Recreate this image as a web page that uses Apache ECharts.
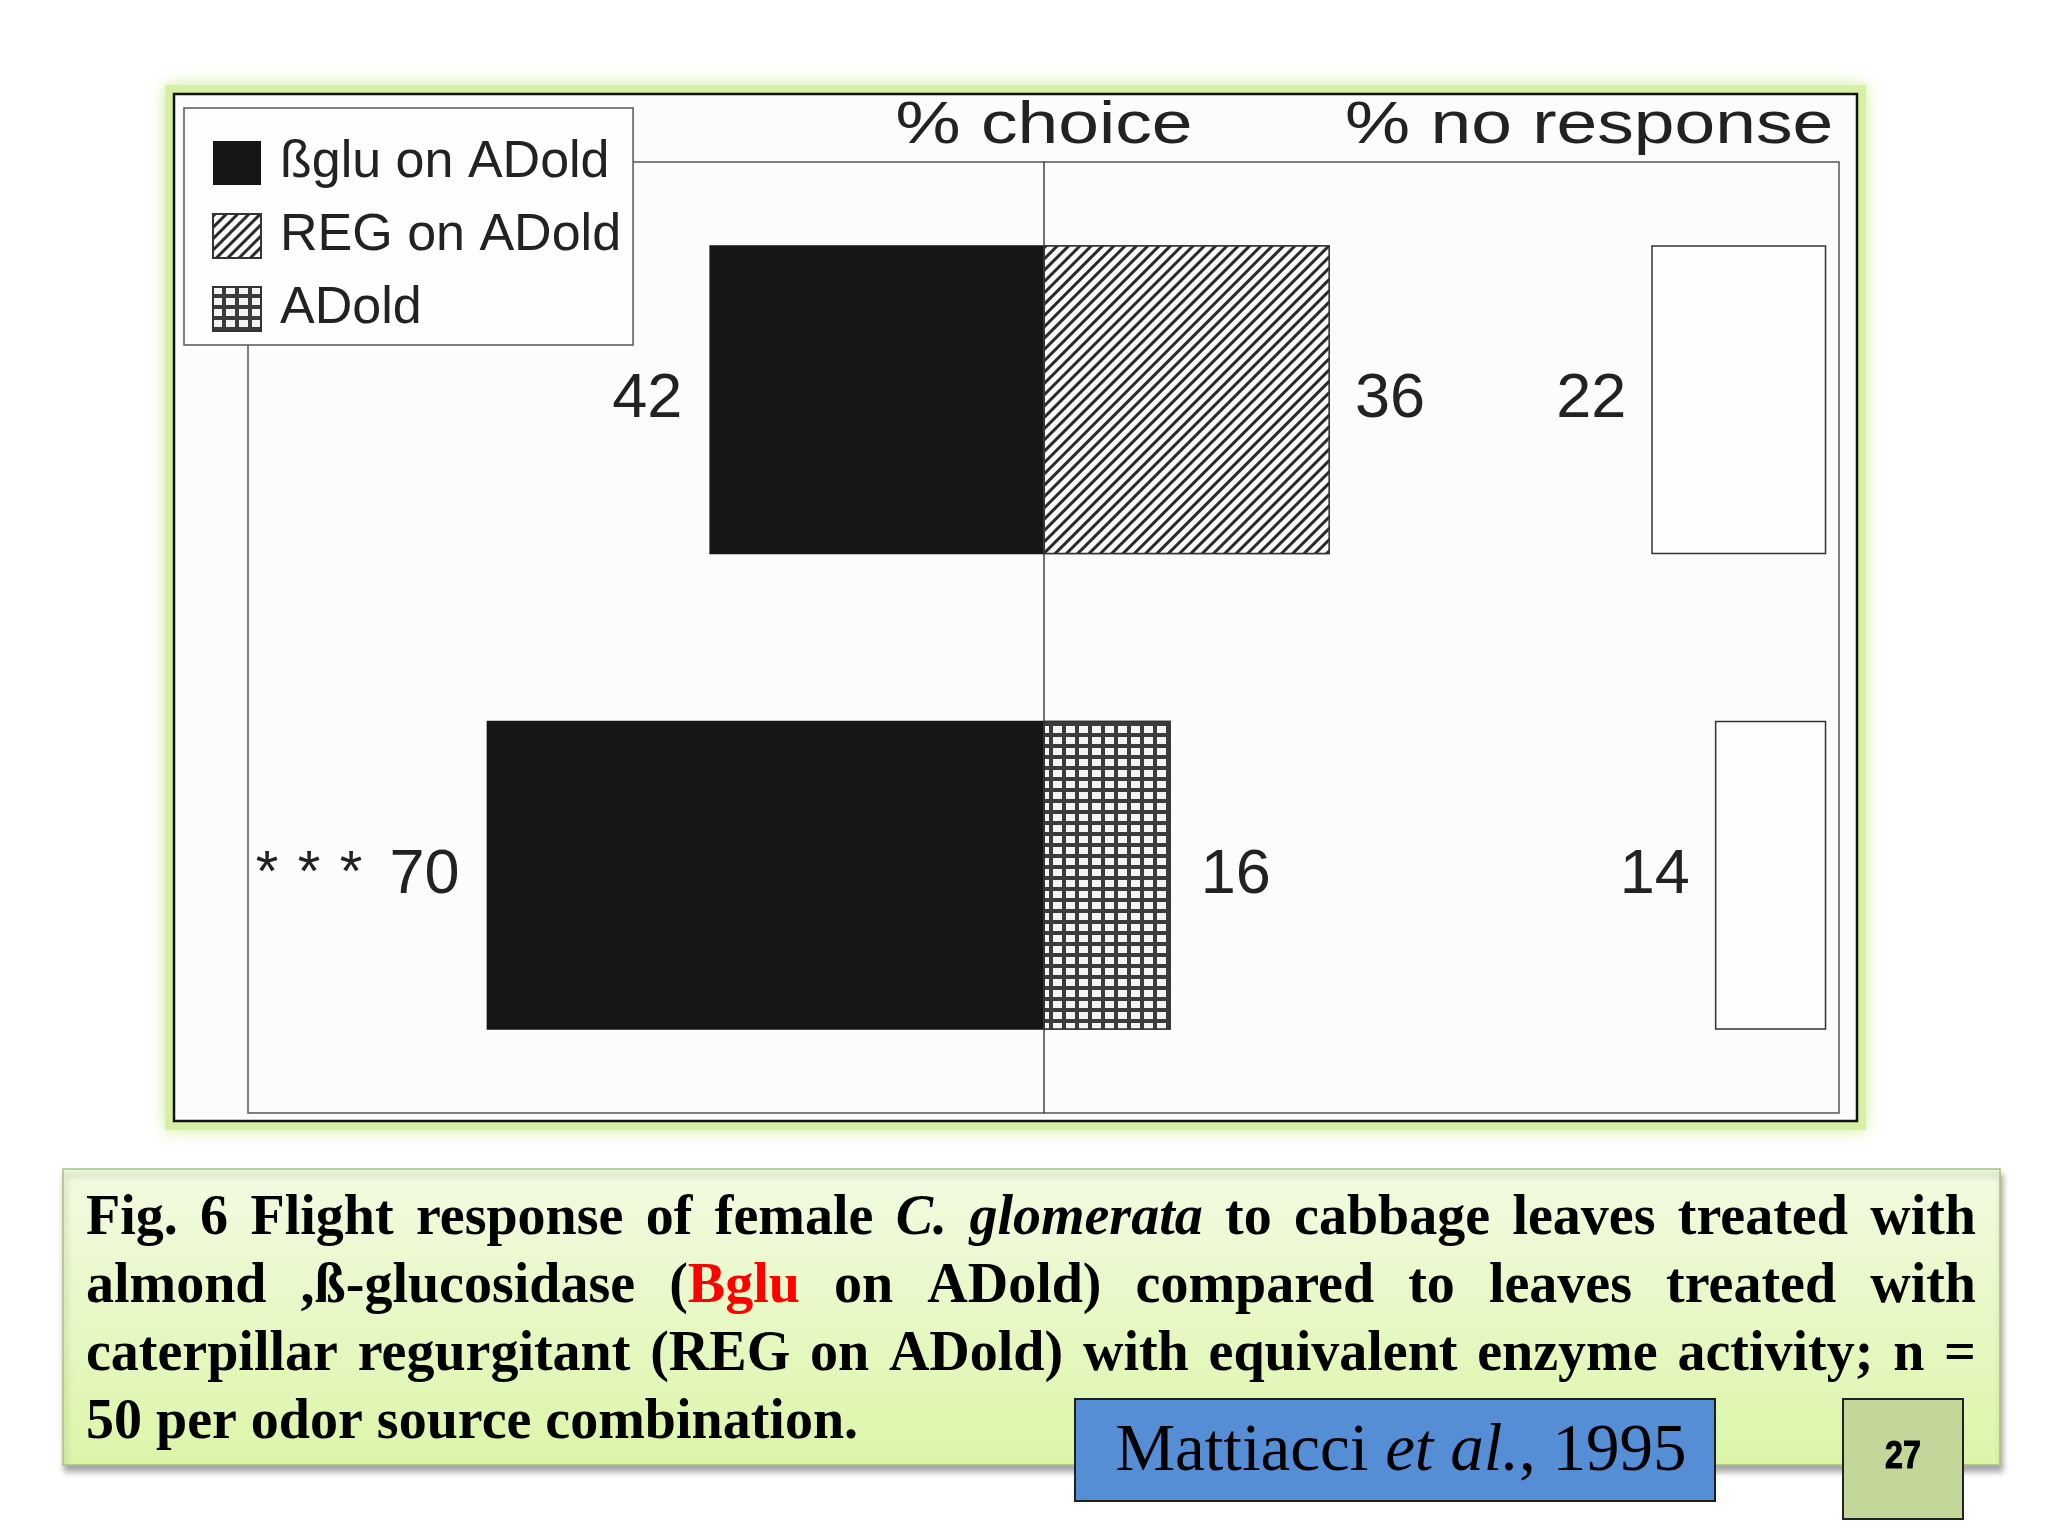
<!DOCTYPE html>
<html>
<head>
<meta charset="utf-8">
<title>Flight response of female C. glomerata</title>
<script src="https://cdn.jsdelivr.net/npm/echarts@6/dist/echarts.min.js"></script>
<style>
  html, body { margin: 0; padding: 0; background: #ffffff; }
  #chart { width: 2048px; height: 1536px; }
</style>
</head>
<body>
<div id="chart"></div>
<script>
// rows of the figure, top to bottom
const categories = ['Bglu vs REG', 'Bglu vs ADold'];
const bgluChoice = [42, 70];     // % choice for Bglu on ADold (drawn to the left)
const regChoice = [36, null];    // % choice for REG on ADold
const adoldChoice = [null, 16];  // % choice for ADold
const noResponse = [22, 14];     // % no response
const significance = ['', '***'];
const legendNames = ['ßglu on ADold', 'REG on ADold', 'ADold'];

// caption words; a word is a plain string or a list of [style, text] pieces
const captionLines = [
  ['Fig.', '6', 'Flight', 'response', 'of', 'female', [['i', 'C.']], [['i', 'glomerata']], 'to', 'cabbage', 'leaves', 'treated', 'with'],
  ['almond', ',ß-glucosidase', [['b', '('], ['r', 'Bglu']], 'on', 'ADold)', 'compared', 'to', 'leaves', 'treated', 'with'],
  ['caterpillar', 'regurgitant', '(REG', 'on', 'ADold)', 'with', 'equivalent', 'enzyme', 'activity;', 'n', '='],
  ['50', 'per', 'odor', 'source', 'combination.']
];

const ink = '#222';
const sans = '"Liberation Sans", Arial, Helvetica, sans-serif';
const serif = '"Liberation Serif", "Times New Roman", serif';

const hatch = {
  symbol: 'rect', symbolSize: 1, color: '#2a2a2a', backgroundColor: '#fafafa',
  dashArrayX: [1, 0], dashArrayY: [3, 5], rotation: -Math.PI / 4
};
const grid = {
  symbol: 'rect', symbolSize: 1, color: '#f4f4f4', backgroundColor: '#3c3c3c',
  dashArrayX: [9, 4], dashArrayY: [7, 4], rotation: 0
};

// justify caption lines by measuring words
const ctx = document.createElement('canvas').getContext('2d');
const capFont = { b: `bold 56px ${serif}`, i: `italic bold 56px ${serif}`, r: `bold 56px ${serif}` };
const pieces = (w) => (typeof w === 'string' ? [['b', w]] : w);
const wordWidth = (w) => pieces(w).reduce((s, [st, t]) => {
  ctx.font = capFont[st];
  return s + ctx.measureText(t).width;
}, 0);
const capBase = { fontFamily: serif, fontWeight: 'bold', fontSize: 56, fill: '#000' };

const captionElements = captionLines.map((words, k) => {
  const justify = k < captionLines.length - 1;
  const used = words.reduce((s, w) => s + wordWidth(w), 0);
  ctx.font = capFont.b;
  const gap = justify ? (1890 - used) / (words.length - 1) : ctx.measureText(' ').width;
  const text = words.map((w) => pieces(w).map(([st, t]) => `{${st}|${t}}`).join('')).join('{g| }');
  return {
    type: 'text', x: 86, y: 1220 + k * 68, z: 10,
    style: {
      text,
      align: 'left', verticalAlign: 'middle', textAlign: 'left', textVerticalAlign: 'middle',
      rich: {
        b: { ...capBase },
        i: { ...capBase, fontStyle: 'italic' },
        r: { ...capBase, fill: '#ff0000' },
        g: { ...capBase, width: gap }
      }
    }
  };
});

const chart = echarts.init(document.getElementById('chart'));

const labelBase = { show: true, fontFamily: sans, fontSize: 63, color: ink };

const option = {
  backgroundColor: '#ffffff',
  animation: false,
  grid: {
    left: 248, right: 209, top: 162, bottom: 423,
    show: true, borderColor: '#555', borderWidth: 1.5, backgroundColor: 'transparent',
    outerBoundsMode: 'none'
  },
  legend: {
    data: legendNames,
    orient: 'vertical',
    left: 184, top: 108,
    padding: [29, 12, 10, 28],
    itemWidth: 48, itemHeight: 44, itemGap: 21,
    icon: 'rect',
    backgroundColor: '#fdfdfd',
    borderColor: '#555', borderWidth: 1.5, borderRadius: 0,
    textStyle: { fontFamily: sans, fontSize: 52, color: ink, padding: [0, 0, 0, 14] },
    selectedMode: false
  },
  xAxis: [
    {
      type: 'value', min: -100, max: 100,
      axisLine: { show: false }, axisTick: { show: false },
      axisLabel: { show: false }, splitLine: { show: false }
    },
    {
      type: 'value', inverse: true, min: -1.6, max: 198.4, position: 'top',
      axisLine: { show: false }, axisTick: { show: false },
      axisLabel: { show: false }, splitLine: { show: false }
    }
  ],
  yAxis: [
    {
      type: 'category', inverse: true, data: categories,
      axisLine: { show: true, onZero: true, onZeroAxisIndex: 0, lineStyle: { color: '#444', width: 1.5 } },
      axisTick: { show: false }, axisLabel: { show: false }, splitLine: { show: false }
    },
    {
      type: 'category', inverse: true, data: categories, show: false
    }
  ],
  series: [
    {
      name: legendNames[0], type: 'bar', stack: 'choice', barWidth: '65%',
      data: bgluChoice.map((v) => -v),
      itemStyle: { color: '#161616' },
      label: {
        ...labelBase, position: 'left', distance: 27,
        formatter: (p) => '{s|*}'.repeat(significance[p.dataIndex].length) +
          (significance[p.dataIndex] ? ' ' : '') + bgluChoice[p.dataIndex],
        rich: { s: { fontFamily: sans, fontSize: 58, color: ink, width: 42, align: 'center' } }
      }
    },
    {
      name: legendNames[1], type: 'bar', stack: 'choice', barWidth: '65%',
      data: regChoice,
      itemStyle: { color: '#fafafa', borderColor: '#333', borderWidth: 1.5, decal: hatch },
      label: { ...labelBase, position: 'right', distance: 25 }
    },
    {
      name: legendNames[2], type: 'bar', stack: 'choice', barWidth: '65%',
      data: adoldChoice,
      itemStyle: { color: '#f4f4f4', borderColor: '#333', borderWidth: 1.5, decal: grid },
      label: { ...labelBase, position: 'right', distance: 30 }
    },
    {
      name: '% no response', type: 'bar', xAxisIndex: 1, yAxisIndex: 1, barWidth: '65%',
      data: noResponse,
      itemStyle: { color: '#fdfdfd', borderColor: '#333', borderWidth: 1.5 },
      label: { ...labelBase, position: 'left', distance: 25 }
    }
  ],
  graphic: [
    // glow frame around the figure
    {
      type: 'rect', z: -3, silent: true,
      shape: { x: 165, y: 85, width: 1701, height: 1045 },
      style: { fill: '#d6f1a6', shadowBlur: 16, shadowColor: '#cfee98' }
    },
    {
      type: 'rect', z: -2, silent: true,
      shape: { x: 174, y: 94, width: 1683, height: 1027 },
      style: { fill: '#fcfcfc', stroke: '#111', lineWidth: 2.5 }
    },
    {
      type: 'text', z: 10, x: 1044, y: 126, scaleX: 1.22,
      style: {
        text: '% choice', font: `60px ${sans}`, fill: ink,
        align: 'center', verticalAlign: 'middle', textAlign: 'center', textVerticalAlign: 'middle'
      }
    },
    {
      type: 'text', z: 10, x: 1345, y: 126, scaleX: 1.22,
      style: {
        text: '% no response', font: `60px ${sans}`, fill: ink,
        align: 'left', verticalAlign: 'middle', textAlign: 'left', textVerticalAlign: 'middle'
      }
    },
    // caption box
    {
      type: 'rect', z: -2, silent: true,
      shape: { x: 63, y: 1169, width: 1937, height: 296 },
      style: {
        fill: {
          type: 'linear', x: 0, y: 0, x2: 0, y2: 1,
          colorStops: [{ offset: 0, color: '#f2fbe2' }, { offset: 1, color: '#dcf5a8' }]
        },
        stroke: '#a9c27e', lineWidth: 1.5,
        shadowColor: 'rgba(0,0,0,0.35)', shadowBlur: 6, shadowOffsetX: 2, shadowOffsetY: 6
      }
    },
    ...captionElements,
    // citation
    {
      type: 'rect', z: 5, silent: true,
      shape: { x: 1075, y: 1399, width: 640, height: 102 },
      style: { fill: '#558ed5', stroke: '#1f1f1f', lineWidth: 2 }
    },
    {
      type: 'text', z: 10, x: 1401, y: 1452,
      style: {
        text: '{r|Mattiacci }{i|et al.}{r|, 1995}',
        align: 'center', verticalAlign: 'middle', textAlign: 'center', textVerticalAlign: 'middle',
        rich: {
          r: { fontFamily: serif, fontSize: 67, fill: '#000' },
          i: { fontFamily: serif, fontSize: 67, fontStyle: 'italic', fill: '#000' }
        }
      }
    },
    // slide number
    {
      type: 'rect', z: 5, silent: true,
      shape: { x: 1843, y: 1399, width: 120, height: 120 },
      style: { fill: '#c4d79b', stroke: '#222', lineWidth: 2 }
    },
    {
      type: 'text', z: 10, x: 1903, y: 1458, scaleX: 0.85,
      style: {
        text: '27', font: `900 38px ${sans}`, fill: '#000', stroke: '#000', lineWidth: 1,
        align: 'center', verticalAlign: 'middle', textAlign: 'center', textVerticalAlign: 'middle'
      }
    }
  ]
};

chart.setOption(option);
</script>
</body>
</html>
